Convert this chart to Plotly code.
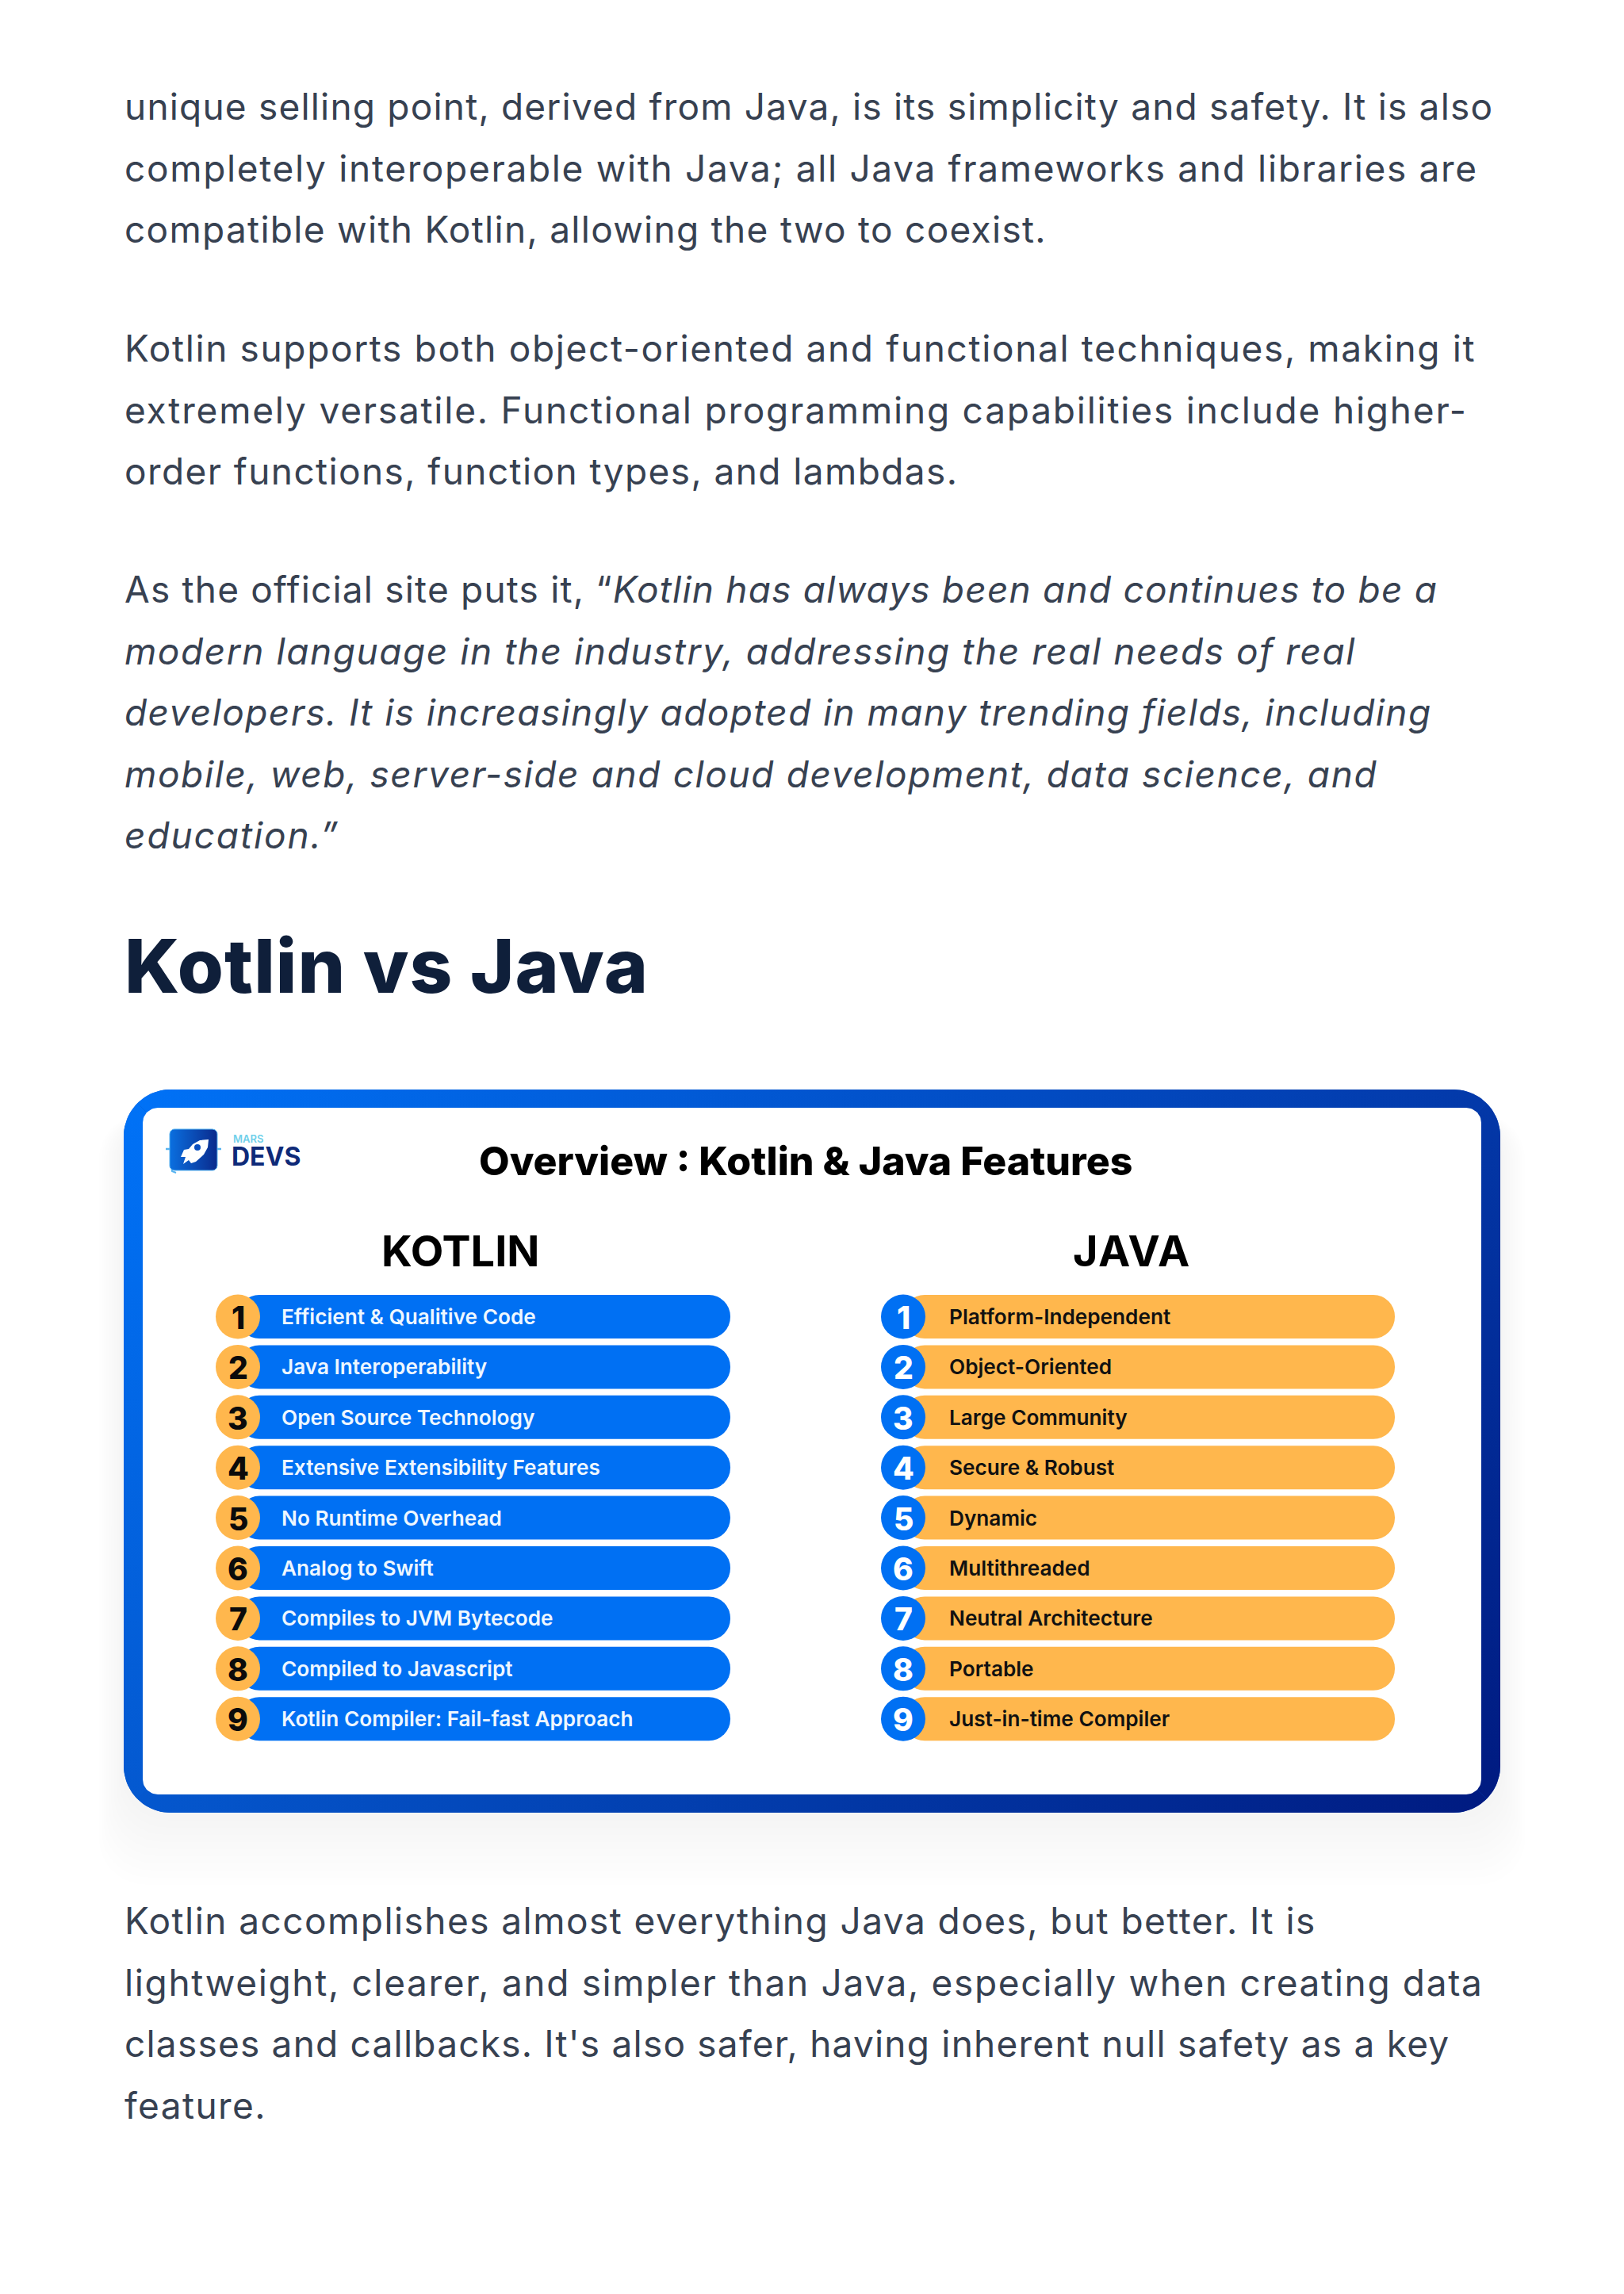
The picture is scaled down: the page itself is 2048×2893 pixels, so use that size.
import numpy as np
import plotly.graph_objects as go

# page text, one entry per rendered line
top_lines = [
    "unique selling point, derived from Java, is its simplicity and safety. It is also",
    "completely interoperable with Java; all Java frameworks and libraries are",
    "compatible with Kotlin, allowing the two to coexist.",
]
mid_lines = [
    "Kotlin supports both object-oriented and functional techniques, making it",
    "extremely versatile. Functional programming capabilities include higher-",
    "order functions, function types, and lambdas.",
]
quote_lines = [
    "As the official site puts it, \u201c<i>Kotlin has always been and continues to be a</i>",
    "<i>modern language in the industry, addressing the real needs of real</i>",
    "<i>developers. It is increasingly adopted in many trending fields, including</i>",
    "<i>mobile, web, server-side and cloud development, data science, and</i>",
    "<i>education.\u201d</i>",
]
end_lines = [
    "Kotlin accomplishes almost everything Java does, but better. It is",
    "lightweight, clearer, and simpler than Java, especially when creating data",
    "classes and callbacks. It's also safer, having inherent null safety as a key",
    "feature.",
]
heading = "Kotlin vs Java"
card_title = "Overview : Kotlin &amp; Java Features"

kotlin_features = [
    "Efficient &amp; Qualitive Code", "Java Interoperability", "Open Source Technology",
    "Extensive Extensibility Features", "No Runtime Overhead", "Analog to Swift",
    "Compiles to JVM Bytecode", "Compiled to Javascript", "Kotlin Compiler: Fail-fast Approach",
]
java_features = [
    "Platform-Independent", "Object-Oriented", "Large Community",
    "Secure &amp; Robust", "Dynamic", "Multithreaded",
    "Neutral Architecture", "Portable", "Just-in-time Compiler",
]
numbers = ["1", "2", "3", "4", "5", "6", "7", "8", "9"]

BLUE = "#0070f3"
ORANGE = "#ffb74d"
TEXT = "#374151"
FONT = "Inter"
OFF = 8  # browser body margin

# extra tracking per line, Inter runs narrower than the original face
top_track = [1.19, 1.67, 1.29]
mid_track = [1.64, 1.79, 1.4]
quote_track = [1.19, 1.54, 1.38, 1.6, 1.9]
end_track = [1.45, 1.66, 1.22, 1.4]


def rounded(x0, y0, x1, y1, r, n=16):
    # outline of a rounded rectangle as point lists
    xs, ys = [], []
    for cx, cy, a0 in [(x1 - r, y0 + r, -90), (x1 - r, y1 - r, 0), (x0 + r, y1 - r, 90), (x0 + r, y0 + r, 180)]:
        for a in np.radians(np.linspace(a0, a0 + 90, n)):
            xs.append(cx + r * np.cos(a))
            ys.append(cy + r * np.sin(a))
    return xs + xs[:1], ys + ys[:1]


def wedge(c1, c2, a0, a1, p1, p2, r, n=12):
    # one side of the card border: half corner, half corner, closed through the inside
    xs, ys = [], []
    for a in np.radians(np.linspace(a0[0], a0[1], n)):
        xs.append(c1[0] + r * np.cos(a))
        ys.append(c1[1] + r * np.sin(a))
    for a in np.radians(np.linspace(a1[0], a1[1], n)):
        xs.append(c2[0] + r * np.cos(a))
        ys.append(c2[1] + r * np.sin(a))
    xs += [p2[0], p1[0]]
    ys += [p2[1], p1[1]]
    return xs + xs[:1], ys + ys[:1]


fig = go.Figure()

# card geometry
L, T, R, B, RAD = 156, 1374, 1892, 2286, 59
TL, TR, BL, BR = "#0072f7", "#0338a8", "#0458cf", "#001a80"

# soft shadow, mostly under the card
for i in range(10):
    pad = 10 + i * 9
    x, y = rounded(L - pad * 0.35, T + 30, R + pad * 0.35, B + pad, RAD)
    fig.add_trace(go.Scatter(x=x, y=y, mode="lines", fill="toself", fillcolor="rgba(110,90,70,0.005)",
                             line=dict(width=0), hoverinfo="skip", showlegend=False))

x, y = rounded(L, T, R, B, RAD)
fig.add_trace(go.Scatter(x=x, y=y, mode="lines", fill="toself", fillcolor="#0350c8",
                         line=dict(width=0), hoverinfo="skip", showlegend=False))

ctl, ctr, cbr, cbl = (L + RAD, T + RAD), (R - RAD, T + RAD), (R - RAD, B - RAD), (L + RAD, B - RAD)
ins = 70
itl, itr, ibr, ibl = (L + ins, T + ins), (R - ins, T + ins), (R - ins, B - ins), (L + ins, B - ins)
sides = [
    (ctl, ctr, (225, 270), (270, 315), itl, itr, "horizontal", (L, R), TL, TR),
    (ctr, cbr, (315, 360), (0, 45), itr, ibr, "vertical", (T, B), TR, BR),
    (cbr, cbl, (45, 90), (90, 135), ibr, ibl, "horizontal", (L, R), BL, BR),
    (cbl, ctl, (135, 180), (180, 225), ibl, itl, "vertical", (T, B), TL, BL),
]
for c1, c2, a0, a1, p1, p2, kind, span, col0, col1 in sides:
    x, y = wedge(c1, c2, a0, a1, p1, p2, RAD)
    fig.add_trace(go.Scatter(
        x=x, y=y, mode="lines", line=dict(width=0), hoverinfo="skip", showlegend=False, fill="toself",
        fillgradient=dict(type=kind, start=span[0], stop=span[1], colorscale=[[0, col0], [1, col1]]),
    ))

x, y = rounded(180, 1397, 1868, 2263, 19)
fig.add_trace(go.Scatter(x=x, y=y, mode="lines", fill="toself", fillcolor="white",
                         line=dict(width=0), hoverinfo="skip", showlegend=False))

# logo
for nub_x in ([209, 215], [273, 279]):
    fig.add_trace(go.Scatter(x=nub_x, y=[1449, 1449], mode="lines", line=dict(width=2.5, color="#58b4f0"),
                             hoverinfo="skip", showlegend=False))
fig.add_trace(go.Scatter(x=[216, 217, 222], y=[1470, 1477, 1479], mode="lines", line=dict(width=2, color="#58b4f0"),
                         hoverinfo="skip", showlegend=False))
x, y = rounded(214, 1424, 274, 1476, 6)
fig.add_trace(go.Scatter(
    x=x, y=y, mode="lines", line=dict(width=1, color="#58b4f0"), hoverinfo="skip", showlegend=False, fill="toself",
    fillgradient=dict(type="horizontal", start=214, stop=274, colorscale=[[0, "#0a6fe0"], [1, "#0a2a8c"]]),
))
rocket_x = [263, 252, 243, 238, 232, 228, 234, 231, 238, 241, 247, 257, 262, 263]
rocket_y = [1437, 1438, 1443, 1449, 1450, 1459, 1459, 1468, 1463, 1467, 1465, 1456, 1447, 1437]
fig.add_trace(go.Scatter(x=rocket_x, y=rocket_y, mode="lines", fill="toself", fillcolor="white",
                         line=dict(width=0), hoverinfo="skip", showlegend=False))
fig.add_trace(go.Scatter(x=[249], y=[1447], mode="markers", marker=dict(size=8, color="#0a4fc0"),
                         hoverinfo="skip", showlegend=False))

# feature rows: pills on an overlay axis so they sit on top of the card
row_first, row_pitch, row_h = 1660.5, 63.4, 55
rows = [row_first + i * row_pitch for i in range(len(numbers))]
for labels, pill_col, dot_col, num_col, lab_col, x_dot, x_end, x_lab in [
    (kotlin_features, BLUE, ORANGE, "#0b0b0b", "#eef7ff", 300, 921, 353),
    (java_features, ORANGE, BLUE, "white", "#111111", 1139, 1759, 1195),
]:
    fig.add_trace(go.Bar(
        y=rows, x=[x_end - x_dot] * len(rows), base=x_dot, width=row_h, orientation="h",
        marker=dict(color=pill_col, cornerradius=27, line=dict(width=0)),
        xaxis="x2", yaxis="y2", hoverinfo="skip", showlegend=False,
    ))
    fig.add_trace(go.Scatter(
        x=[x_dot] * len(rows), y=rows, mode="markers",
        marker=dict(size=56, color=dot_col, line=dict(width=0)),
        xaxis="x2", yaxis="y2", hoverinfo="skip", showlegend=False,
    ))
    for yy, num, lab in zip(rows, numbers, labels):
        fig.add_annotation(x=x_dot, y=yy + 1, text=num, showarrow=False, xanchor="center", yanchor="middle",
                           font=dict(family=FONT, size=39, color=num_col, weight=800))
        fig.add_annotation(x=x_lab, y=yy, text=lab, showarrow=False, xanchor="left", yanchor="middle",
                           font=dict(family=FONT, size=26.2, color=lab_col, weight=600))


def put(text, x, y, size, color, weight=400, xanchor="left", track=0):
    if track:
        text = f'<span style="letter-spacing:{track}px">{text}</span>'
    fig.add_annotation(x=x, y=y, text=text, showarrow=False, xanchor=xanchor, yanchor="middle",
                       font=dict(family=FONT, size=size, color=color, weight=weight))


BODY = 46
PITCH = 77.6
for lines, tracks, y0 in [(top_lines, top_track, 134), (mid_lines, mid_track, 439),
                          (quote_lines, quote_track, 743), (end_lines, end_track, 2422)]:
    for i, (line, tr) in enumerate(zip(lines, tracks)):
        put(line, 155, y0 + i * PITCH, BODY, TEXT, track=tr)

put(heading, 155, 1218, 94, "#0f1f3a", 800, track=1)
put(card_title, 1016, 1464, 50, "#000000", 800, "center")
put("KOTLIN", 580, 1577, 54, "#000000", 700, "center")
put("JAVA", 1427, 1577, 54, "#000000", 700, "center", track=1.5)
put("MARS", 292, 1436, 13, "#6fd0ea", 600)
put("DEVS", 290, 1458, 32, "#0f2a78", 700)

hidden = dict(visible=False, fixedrange=True)
fig.update_layout(
    width=2048, height=2893, margin=dict(l=0, r=0, t=0, b=0),
    paper_bgcolor="white", plot_bgcolor="white", showlegend=False, barmode="overlay",
    xaxis=dict(range=[OFF, 2048 + OFF], **hidden),
    yaxis=dict(range=[2893 + OFF, OFF], **hidden),
    xaxis2=dict(range=[OFF, 2048 + OFF], overlaying="x", **hidden),
    yaxis2=dict(range=[2893 + OFF, OFF], overlaying="y", **hidden),
)

fig.write_html("out.html")
